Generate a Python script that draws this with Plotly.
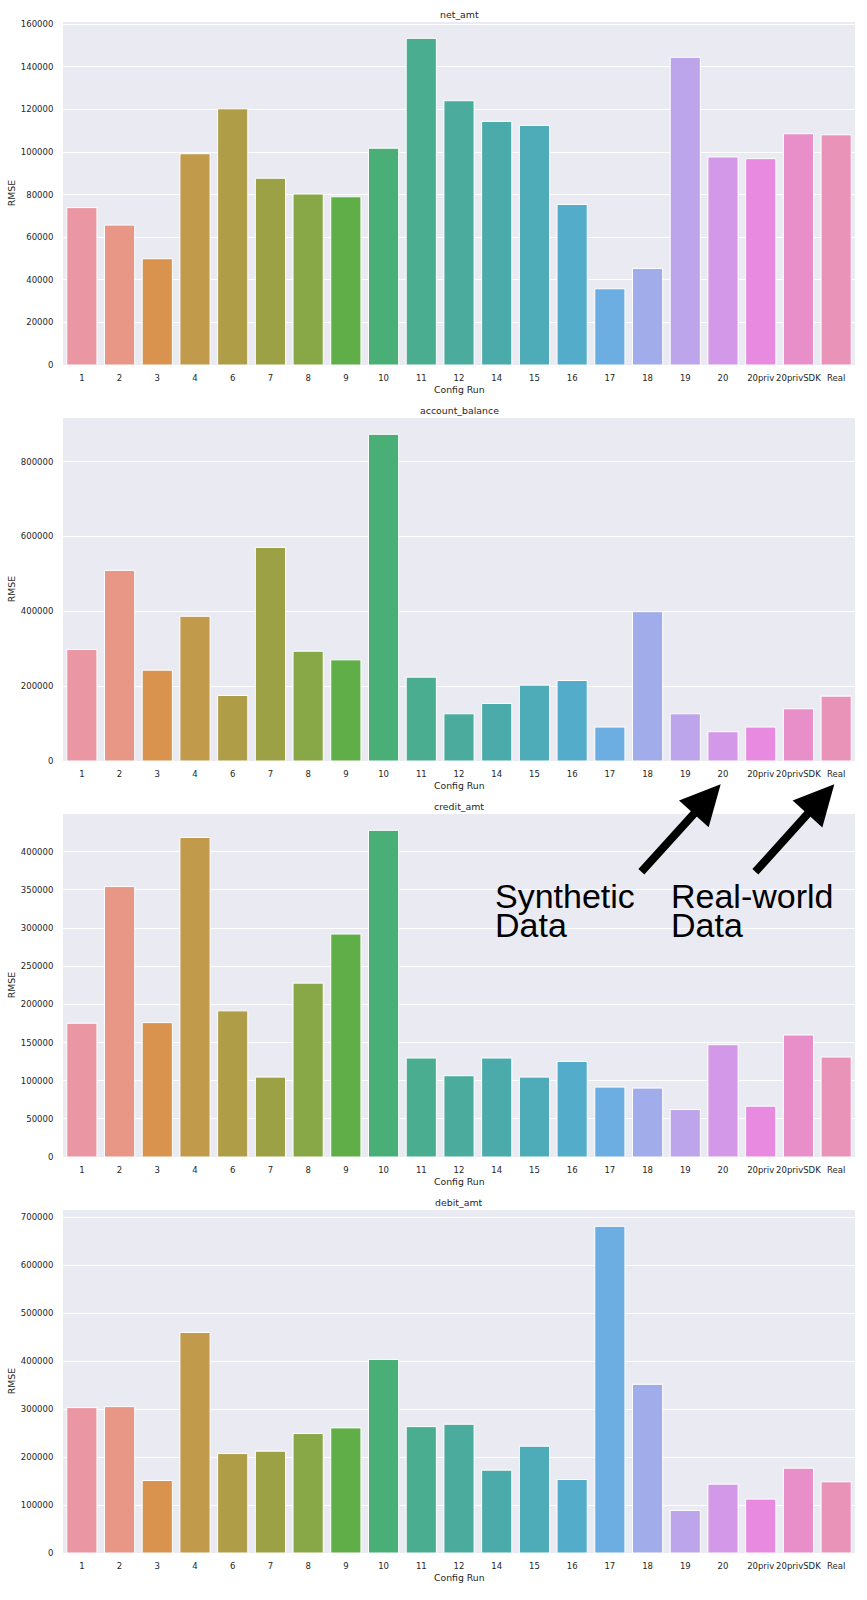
import math
import colorsys
import plotly.graph_objects as go

# ---------------- data ----------------
categories = ["1", "2", "3", "4", "6", "7", "8", "9", "10", "11", "12", "14",
              "15", "16", "17", "18", "19", "20", "20priv", "20privSDK", "Real"]

net_amt = [73900, 65700, 49900, 99200, 120300, 87700, 80300, 79000, 101800, 153400,
           124100, 114400, 112500, 75400, 35800, 45300, 144500, 97700, 96900, 108600, 108100]

account_balance = [297800, 509300, 242700, 386700, 175100, 570700, 293300, 270200, 872800, 224000,
                   126200, 153800, 202700, 215100, 90700, 399100, 126200, 78200, 90700, 139500, 173300]

credit_amt = [175300, 354400, 176100, 418800, 191500, 104700, 227800, 292200, 428100, 129700,
              106500, 129700, 104700, 125300, 91600, 90300, 62200, 147200, 66600, 159900, 131000]

debit_amt = [303200, 305300, 151200, 460000, 207400, 212300, 249100, 260900, 403800, 263600,
             268500, 172800, 222700, 153300, 681300, 351800, 88800, 143600, 112400, 176900, 148500]

panel_titles = ["net_amt", "account_balance", "credit_amt", "debit_amt"]
panel_values = [net_amt, account_balance, credit_amt, debit_amt]
tick_steps = [20000, 200000, 50000, 100000]

x_label = "Config Run"
y_label = "RMSE"
note_synthetic = ["Synthetic", "Data"]
note_real = ["Real-world", "Data"]

# ---------------- seaborn-like husl palette ----------------
M = [[3.2406, -1.5372, -0.4986],
     [-0.9689, 1.8758, 0.0415],
     [0.0557, -0.2040, 1.0570]]
REF_U, REF_V = 0.19784, 0.46834
LAB_E, LAB_K = 0.008856, 903.3


def max_chroma(L, H):
    hrad = math.radians(H)
    sinH, cosH = math.sin(hrad), math.cos(hrad)
    sub1 = (L + 16) ** 3 / 1560896.0
    sub2 = sub1 if sub1 > 0.008856 else L / 903.3
    result = float("inf")
    for m1, m2, m3 in M:
        top = (0.99915 * m1 + 1.05122 * m2 + 1.14460 * m3) * sub2
        rbottom = 0.86330 * m3 - 0.17266 * m2
        lbottom = 0.12949 * m3 - 0.38848 * m1
        bottom = (rbottom * sinH + lbottom * cosH) * sub2
        for t in (0.0, 1.0):
            C = L * (top - 1.05122 * t) / (bottom + 0.17266 * sinH * t)
            if 0.0 < C < result:
                result = C
    return result


def husl_to_rgb(h, s, l):
    if l > 99.9999:
        return (1.0, 1.0, 1.0)
    if l < 1e-5:
        return (0.0, 0.0, 0.0)
    C = max_chroma(l, h) / 100.0 * s
    hrad = math.radians(h)
    U, V = math.cos(hrad) * C, math.sin(hrad) * C
    t = (l + 16) / 116.0
    varY = t ** 3 if t ** 3 > LAB_E else (116 * t - 16) / LAB_K
    varU = U / (13 * l) + REF_U
    varV = V / (13 * l) + REF_V
    Y = varY
    X = -(9 * Y * varU) / ((varU - 4) * varV - varU * varV)
    Z = (9 * Y - 15 * varV * Y - varV * X) / (3 * varV)
    out = []
    for row in M:
        c = row[0] * X + row[1] * Y + row[2] * Z
        c = 12.92 * c if c <= 0.0031308 else 1.055 * c ** (1 / 2.4) - 0.055
        out.append(min(max(c, 0.0), 1.0))
    return out


def palette(n, l=0.7, s=0.9, h0=0.01, desat=0.75):
    cols = []
    for i in range(n):
        hue = ((i / n + h0) % 1.0) * 359
        r, g, b = husl_to_rgb(hue, s * 99, l * 99)
        hh, ll, ss = colorsys.rgb_to_hls(r, g, b)
        r, g, b = colorsys.hls_to_rgb(hh, ll, ss * desat)
        cols.append("rgb(%d,%d,%d)" % (round(r * 255), round(g * 255), round(b * 255)))
    return cols


colors = palette(len(categories))

# ---------------- layout geometry ----------------
W, H = 867, 1600
ML, MR = 63, 12
PW = W - ML - MR
panel_top = [22, 418, 814, 1210]
panel_h = 343


def xp(px):
    return (px - ML) / PW


def yp(py):
    return 1 - py / H


TEXT = "#262626"
FONT = "DejaVu Sans"

fig = go.Figure()
annotations = []
layout = {}

for i, (title, vals) in enumerate(zip(panel_titles, panel_values)):
    n = "" if i == 0 else str(i + 1)
    fig.add_trace(go.Bar(
        x=categories, y=vals, xaxis="x" + n, yaxis="y" + n,
        marker=dict(color=colors, line=dict(color="white", width=1)),
        width=0.8, showlegend=False, hoverinfo="x+y"))
    top = panel_top[i]
    bot = top + panel_h
    layout["xaxis" + n] = dict(
        domain=[0, 1], anchor="y" + n, type="category",
        categoryorder="array", categoryarray=categories,
        range=[-0.5, len(categories) - 0.5], showgrid=False, zeroline=False,
        showline=False, ticks="outside", ticklen=5, tickcolor="rgba(0,0,0,0)",
        tickangle=0,
        tickfont=dict(family=FONT, size=8.5, color=TEXT), automargin=False)
    layout["yaxis" + n] = dict(
        domain=[yp(bot), yp(top)], anchor="x" + n,
        range=[0, max(vals) * 1.05], dtick=tick_steps[i], tick0=0, tickformat="d",
        showgrid=True, gridcolor="white", gridwidth=1, zeroline=False, showline=False,
        ticks="outside", ticklen=7, tickcolor="rgba(0,0,0,0)",
        tickfont=dict(family=FONT, size=8.5, color=TEXT), automargin=False)
    annotations.append(dict(text=title, x=0.5, y=yp(top - 7.6), xref="paper", yref="paper",
                            xanchor="center", yanchor="middle", showarrow=False,
                            font=dict(family=FONT, size=9.4, color=TEXT)))
    annotations.append(dict(text=x_label, x=0.5, y=yp(bot + 24), xref="paper", yref="paper",
                            xanchor="center", yanchor="middle", showarrow=False,
                            font=dict(family=FONT, size=9.3, color=TEXT)))
    annotations.append(dict(text=y_label, x=xp(11.7), y=yp((top + bot) / 2), xref="paper",
                            yref="paper", xanchor="center", yanchor="middle", showarrow=False,
                            textangle=-90, font=dict(family=FONT, size=9.3, color=TEXT)))

# arrows
for tip, tail in [((720.7, 784.3), (640, 873.3)), ((834.3, 784.3), (754, 873.3))]:
    annotations.append(dict(text="", x=xp(tip[0]), y=yp(tip[1]), xref="paper", yref="paper",
                            showarrow=True, ax=tail[0] - tip[0], ay=tail[1] - tip[1],
                            arrowhead=2, arrowsize=1, arrowwidth=8, arrowcolor="black",
                            standoff=0, startstandoff=0))

# big notes (tight line spacing as in the original figure)
BIG = "Liberation Sans"
for lines, left in [(note_synthetic, 493), (note_real, 669)]:
    for j, line in enumerate(lines):
        annotations.append(dict(text=line, x=xp(left), y=yp(896 + j * 29), xref="paper",
                                yref="paper", xanchor="left", yanchor="middle",
                                showarrow=False, font=dict(family=BIG, size=34, color="black")))

fig.update_layout(
    width=W, height=H, margin=dict(l=ML, r=MR, t=0, b=0),
    plot_bgcolor="#EAEAF2", paper_bgcolor="white",
    bargap=0.2, annotations=annotations, showlegend=False, **layout)

fig.write_html("out.html")
